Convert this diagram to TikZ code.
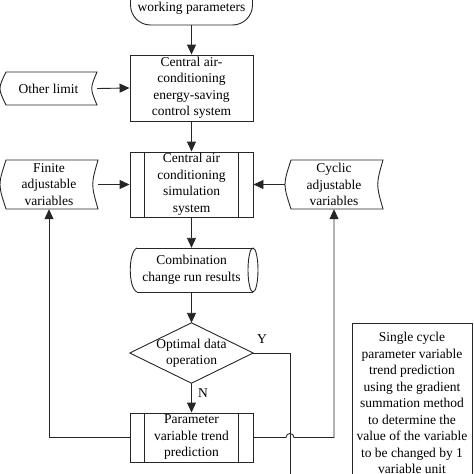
\documentclass[tikz,border=0pt]{standalone}
\usepackage{fontspec}
\setmainfont{Liberation Serif}
\usetikzlibrary{arrows.meta}
\newcommand{\stdata}[4]{%
  \draw[shp] ({#1+6},#3) -- (#2,#3) .. controls ({#2-7},{(#3+#4)/2}) .. (#2,#4) -- ({#1+6},#4) .. controls ({#1-2},{(#3+#4)/2}) .. cycle;}
\begin{document}
\begin{tikzpicture}[x=1pt,y=-1pt,
  shp/.style={draw=black!85, line width=0.9pt},
  ln/.style={draw=black!85, line width=0.9pt},
  arr/.style={draw=black!85, line width=0.9pt, -{Triangle[length=10pt,width=9pt]}},
  txt/.style={font=\fontsize{13.5}{16.5}\selectfont, align=center, inner sep=0pt, text=black},
  box/.style={txt, shp, minimum width=123pt},
]
\useasboundingbox (0,0) rectangle (474,474);
\clip (0,0) rectangle (474,474);

% top terminator
\draw[shp, rounded corners=20pt] (130.5,-40) rectangle (252.5,25);
\node[txt, minimum width=122pt, minimum height=34pt] (term) at (191.5,8) {working parameters};

% main boxes
\node[box, minimum height=66pt] (b1) at (191.5,88) {Central air-\\conditioning\\energy-saving\\control system};
\node[box, minimum height=65pt] (b2) at (191.5,184.5) {Central air\\conditioning\\simulation\\system};
\draw[ln] ([xshift=15pt]b2.north west) -- ([xshift=15pt]b2.south west);
\draw[ln] ([xshift=-15pt]b2.north east) -- ([xshift=-15pt]b2.south east);

% cylinder
\node[txt, minimum width=122pt, minimum height=44pt] (cyl) at (191.5,270) {Combination\\change run results};
\draw[shp] (137,248) -- (253,248);
\draw[shp] (137,292) -- (253,292);
\draw[shp] (137,248) .. controls (128,252) and (128,288) .. (137,292);
\draw[shp] (253,270) ellipse [x radius=5pt, y radius=22pt];

% diamond
\node[txt, minimum width=123pt, minimum height=60pt] (dia) at (191.5,353) {Optimal data\\operation};
\draw[shp] (dia.north) -- (dia.east) -- (dia.south) -- (dia.west) -- cycle;

\node[box, minimum height=49pt] (b3) at (191.5,437.5) {Parameter\\variable trend\\prediction};
\draw[ln] ([xshift=15pt]b3.north west) -- ([xshift=15pt]b3.south west);
\draw[ln] ([xshift=-15pt]b3.north east) -- ([xshift=-15pt]b3.south east);

% side data
\stdata{0}{97}{72}{105}
\node[txt, minimum width=97pt, minimum height=33pt] (oth) at (48.5,88.5) {Other limit};
\stdata{0}{98}{160}{209}
\node[txt, minimum width=98pt, minimum height=49pt] (fin) at (49,184.5) {Finite\\adjustable\\variables};
\stdata{285}{383}{160}{209}
\node[txt, minimum width=98pt, minimum height=49pt] (cyc) at (334,184.5) {Cyclic\\adjustable\\variables};

% note
\node[txt, shp, minimum width=120pt, inner ysep=9pt, anchor=north] (note) at (412,323) {Single cycle\\parameter variable\\trend prediction\\using the gradient\\summation method\\to determine the\\value of the variable\\to be changed by 1\\variable unit};

% connectors
\draw[arr] (term.south) -- (b1.north);
\draw[arr] (oth.east) -- (b1.west);
\draw[arr] (b1) -- (b2);
\draw[arr] (fin.east) -- (b2.west);
\draw[arr] (cyc.west) -- (b2.east);
\draw[arr] (b2) -- (cyl);
\draw[arr] (cyl) -- (dia);
\draw[arr] (dia) -- (b3);
\draw[arr] (b3.west) -| (fin.south);
\coordinate (ycor) at (290,353);
\coordinate (yend) at (290,480);
\draw[ln] (dia.east) -- (ycor) -- (yend);
\coordinate (jl) at (286,437.5);
\coordinate (jr) at (294,437.5);
\draw[arr] (b3.east) -- (jl) .. controls +(0,-5.3) and +(0,-5.3) .. (jr) -| (cyc.south);

\node[txt] (ylab) at (262,339) {Y};
\node[txt] (nlab) at (203,393) {N};
\end{tikzpicture}
\end{document}
